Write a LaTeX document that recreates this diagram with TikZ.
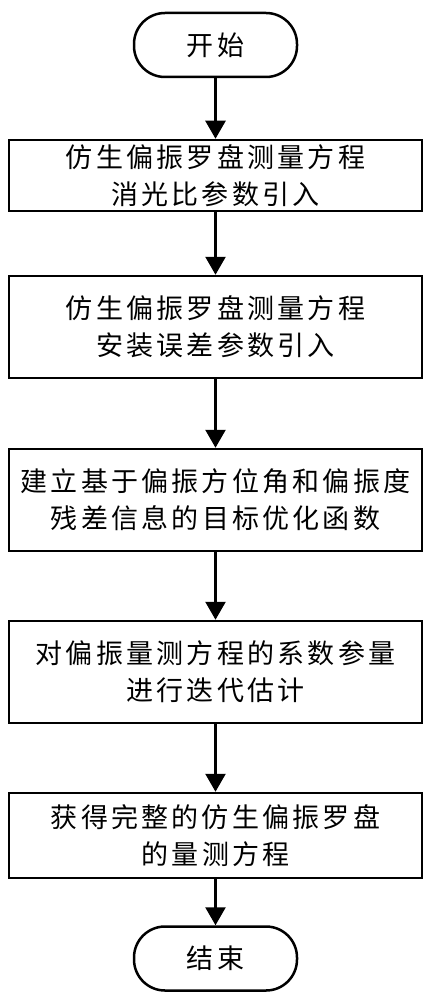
\documentclass[tikz,border=0pt]{standalone}
\usepackage{fontspec}
\newfontfamily\cjk[LetterSpace=12]{Noto Sans CJK SC}
\usetikzlibrary{arrows.meta}
\begin{document}
\begin{tikzpicture}[x=1pt,y=-1pt,
  procbox/.style={draw,line width=2.5pt,minimum width=413pt,align=center,
    font=\cjk\fontsize{27}{37}\selectfont},
  termbox/.style={draw,line width=2.5pt,rounded corners=31pt,minimum width=163pt,
    minimum height=64pt,font=\cjk\fontsize{27}{37}\selectfont},
  flow/.style={line width=2.5pt,-{Triangle[width=20pt,length=18pt]}}]
\useasboundingbox (0,0) rectangle (431,1000);

\node[termbox] (start) at (215.5,45) {开始};
\node[procbox,minimum height=71pt] (ext) at (215.5,175.5) {仿生偏振罗盘测量方程\\消光比参数引入};
\node[procbox,minimum height=102pt] (inst) at (215.5,327) {仿生偏振罗盘测量方程\\安装误差参数引入};
\node[procbox,minimum height=102pt] (obj) at (215.5,500) {建立基于偏振方位角和偏振度\\残差信息的目标优化函数};
\node[procbox,minimum height=102pt] (iter) at (215.5,672) {对偏振量测方程的系数参量\\进行迭代估计};
\node[procbox,minimum height=85pt] (full) at (215.5,835.5) {获得完整的仿生偏振罗盘\\的量测方程};
\node[termbox] (stop) at (215.5,958.5) {结束};

\draw[flow] (start) -- (ext);
\draw[flow] (ext) -- (inst);
\draw[flow] (inst) -- (obj);
\draw[flow] (obj) -- (iter);
\draw[flow] (iter) -- (full);
\draw[flow] (full) -- (stop);
\end{tikzpicture}
\end{document}
